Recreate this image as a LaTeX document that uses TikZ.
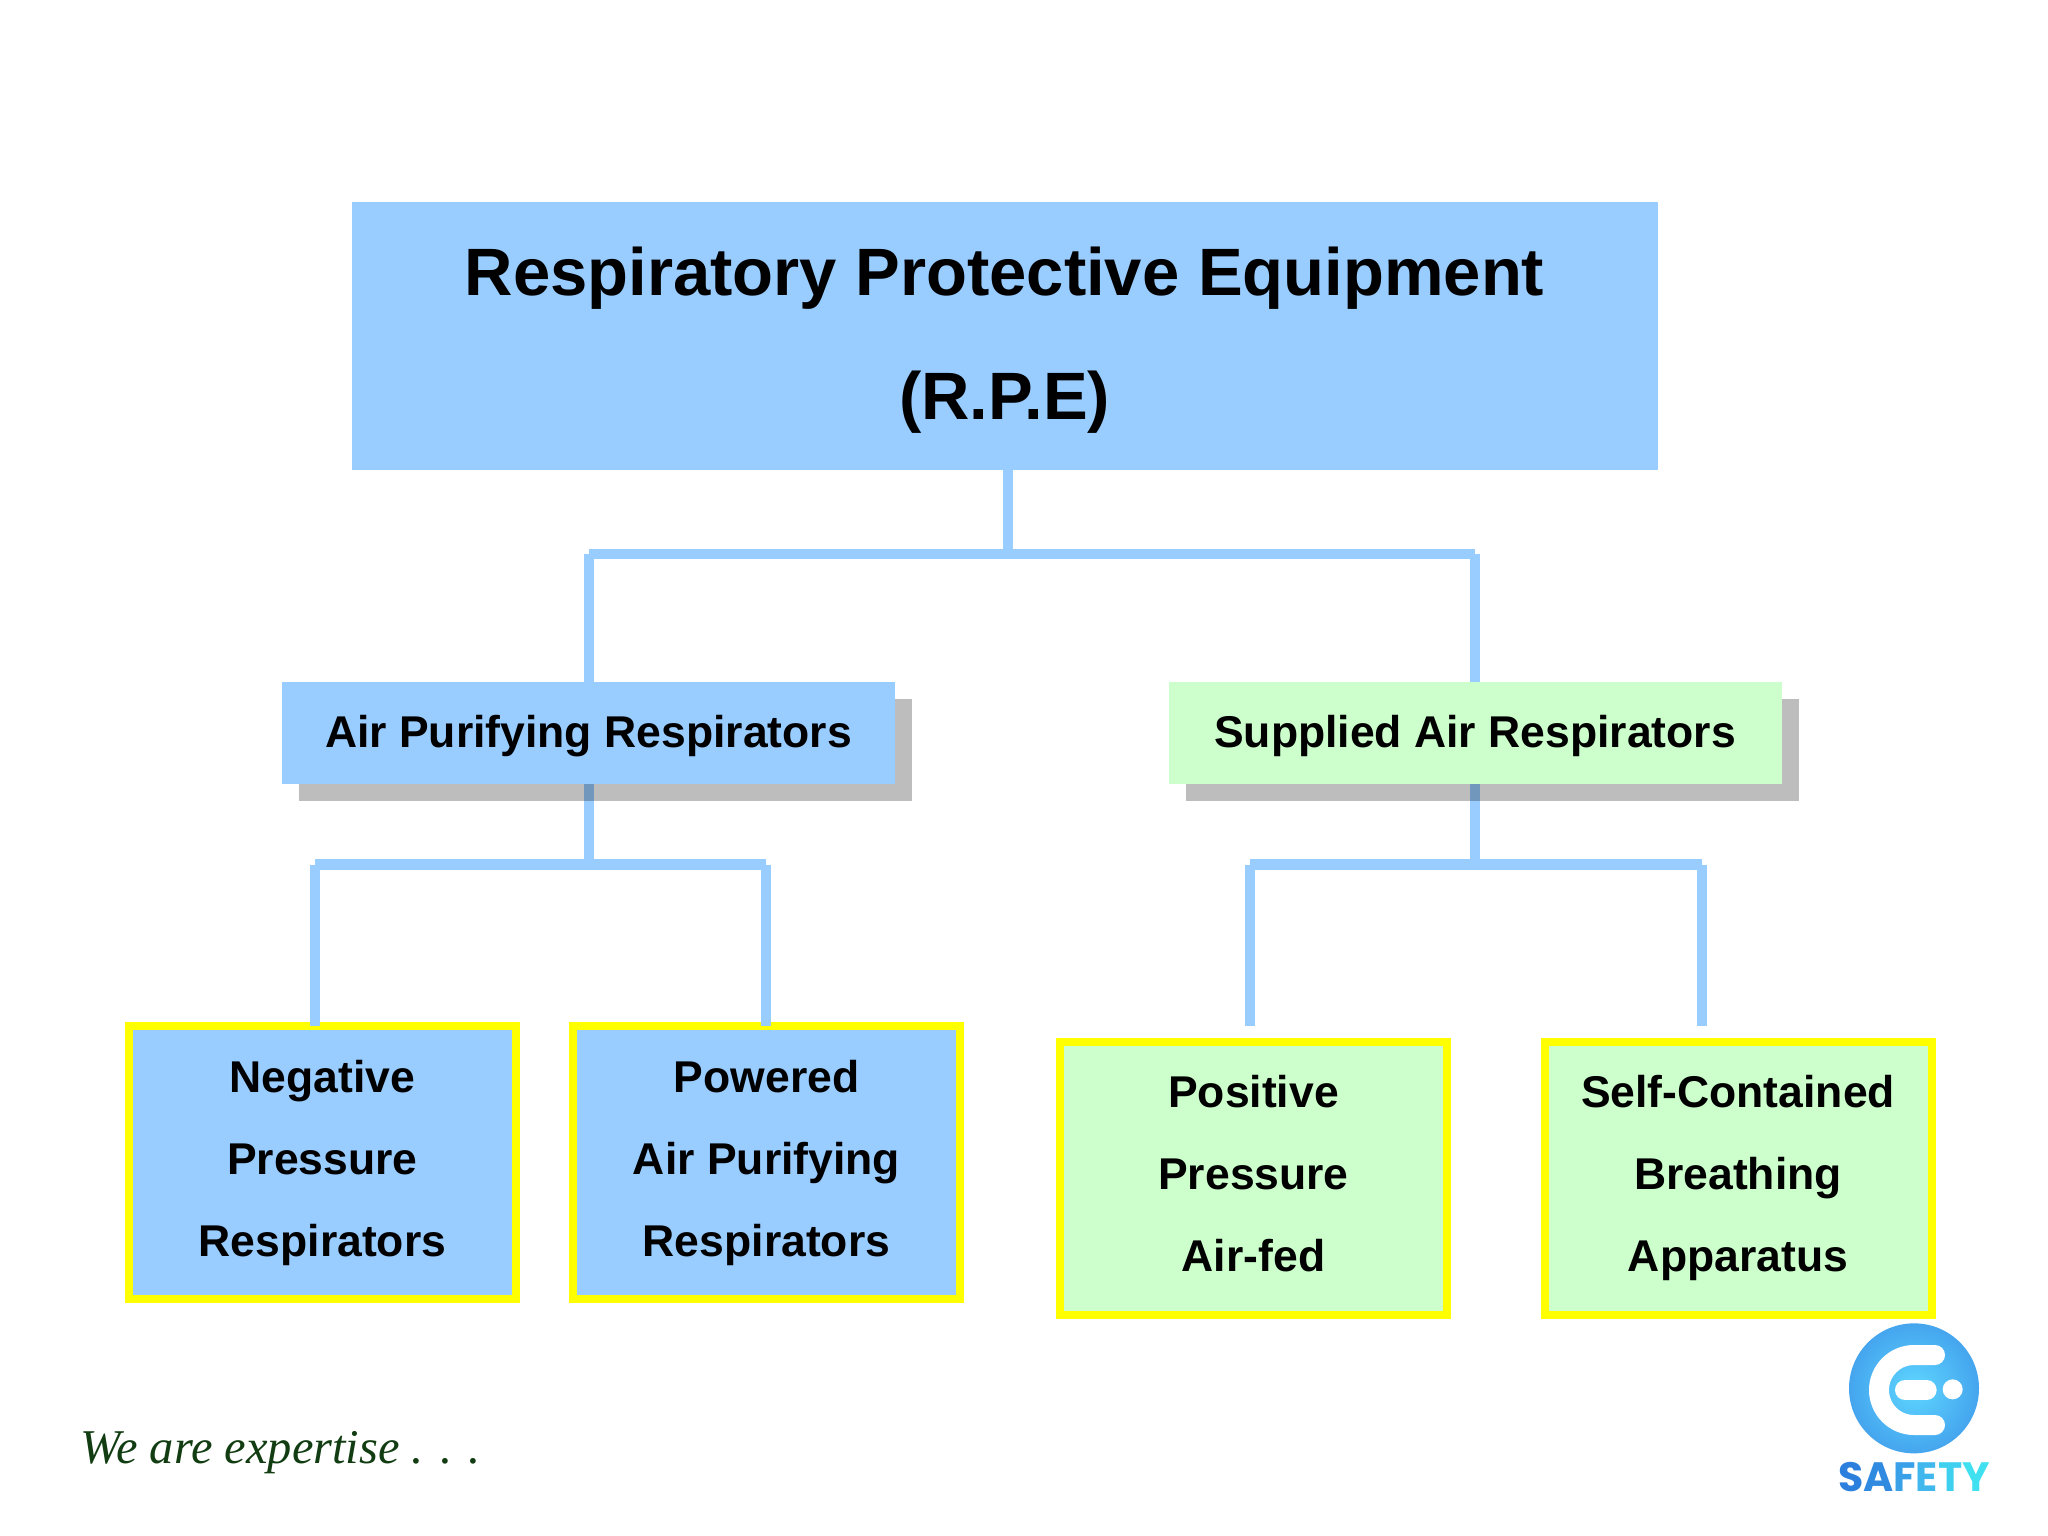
\documentclass[tikz,border=0pt]{standalone}
\usepackage{fontspec}
\setmainfont{Liberation Sans}
\newfontfamily\tagfont{Liberation Serif}
\newfontfamily\logofont{Poppins}
\usetikzlibrary{shadows}
\definecolor{boxblue}{HTML}{99CCFF}
\definecolor{boxgreen}{HTML}{CCFFCC}
\definecolor{boxedge}{HTML}{FFFF00}
\definecolor{tagcol}{HTML}{123D12}
\definecolor{logoouter}{HTML}{45A5EE}
\definecolor{logoinner}{HTML}{5ED6FF}
\pgfdeclarelayer{lowbox}
\pgfdeclarelayer{conn}
\pgfsetlayers{lowbox,conn,main}
\newcommand{\toprule}{\vphantom{Ap}}
\tikzset{
  titlebox/.style={fill=boxblue,minimum width=1306pt,minimum height=268pt,inner sep=0pt,align=center,font=\bfseries\fontsize{67}{124}\selectfont},
  midbox/.style={minimum width=613pt,minimum height=102pt,inner sep=0pt,font=\bfseries\fontsize{44.5}{50}\selectfont,
    general shadow={fill=black,opacity=.26,shadow xshift=17pt,shadow yshift=-17pt}},
  lowbase/.style={draw=boxedge,line width=8pt,minimum width=387pt,minimum height=273pt,inner sep=0pt,align=center,font=\bfseries\fontsize{44.5}{82}\selectfont},
  link/.style={draw=boxblue,line width=10.5pt}
}
\begin{document}
\begin{tikzpicture}[x=1pt,y=-1pt]
\useasboundingbox (0,0) rectangle (2048,1536);
\node[titlebox] (top) at (1004.5,336) {\rule{0pt}{57pt}Respiratory Protective Equipment\\(R.P.E)};
\node[midbox,fill=boxblue] (apr) at (588.5,733) {\rule{0pt}{38pt}Air Purifying Respirators};
\node[midbox,fill=boxgreen] (sar) at (1475,733) {\rule{0pt}{38pt}Supplied Air Respirators};
\begin{pgfonlayer}{lowbox}
\node[lowbase,fill=boxblue] (npr) at (322.5,1162.5) {\toprule Negative\\Pressure\\\toprule Respirators};
\node[lowbase,fill=boxblue] (papr) at (766.5,1162.5) {\toprule Powered\\Air Purifying\\\toprule Respirators};
\node[lowbase,fill=boxgreen] (ppaf) at (1253.5,1178) {\toprule Positive\\Pressure\\\toprule Air-fed};
\node[lowbase,fill=boxgreen] (scba) at (1738,1178) {\toprule Self-Contained\\Breathing\\\toprule Apparatus};
\end{pgfonlayer}
\coordinate (j0) at (1008,554);
\coordinate (j0l) at (589,554);
\coordinate (j0r) at (1475,554);
\coordinate (j1) at (589,864.5);
\coordinate (j1l) at (315,864.5);
\coordinate (j1r) at (766,864.5);
\coordinate (j2) at (1475,864.5);
\coordinate (j2l) at (1250,864.5);
\coordinate (j2r) at (1702,864.5);
\coordinate (e1) at (315,1026);
\coordinate (e2) at (766,1026);
\coordinate (e3) at (1250,1026);
\coordinate (e4) at (1702,1026);
\begin{pgfonlayer}{conn}
\draw[link] (top.south -| j0) -- (j0);
\draw[link] (j0l) -- (j0r);
\draw[link] (j0l) -- (apr.north -| j0l);
\draw[link] (j0r) -- (sar.north -| j0r);
\draw[link] (apr.south -| j1) -- (j1);
\draw[link] (j1l) -- (j1r);
\draw[link] (j1l) -- (e1);
\draw[link] (j1r) -- (e2);
\draw[link] (sar.south -| j2) -- (j2);
\draw[link] (j2l) -- (j2r);
\draw[link] (j2l) -- (e3);
\draw[link] (j2r) -- (e4);
\end{pgfonlayer}
\node[anchor=base west,inner sep=0pt,text=tagcol,font=\tagfont\itshape\fontsize{48.5}{60}\selectfont] (tag) at (80,1463) {We are expertise . . .};
% logo
\begin{scope}[shift={(1780,1300)},x=.33333pt,y=-.33333pt]
\shade[inner color=logoinner,outer color=logoouter] (402,265) circle (65pt);
\draw[white,line width=20pt,line cap=round] (465,165) -- (402,165) arc[start angle=90,end angle=270,radius=35pt] -- (465,375);
\draw[white,line width=20pt,line cap=round] (375,270) -- (440,270);
\fill[white] (518,268) circle (10pt);
\node[anchor=base,inner sep=0pt,font=\logofont\bfseries\fontsize{41}{44}\selectfont] (safety) at (402,575) {\textcolor[HTML]{2C7FDC}{S}\textcolor[HTML]{2F8AE0}{A}\textcolor[HTML]{3AA0E8}{F}\textcolor[HTML]{40B8EE}{E}\textcolor[HTML]{3FD0F0}{T}\textcolor[HTML]{40E0F0}{Y}};
\end{scope}
\end{tikzpicture}
\end{document}
